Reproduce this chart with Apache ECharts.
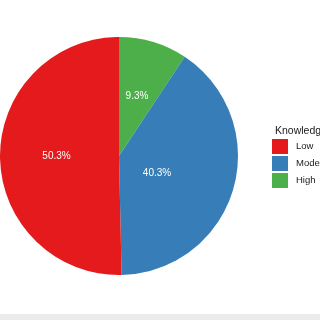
<!DOCTYPE html>
<html>
<head>
<meta charset="utf-8">
<script src="https://cdn.jsdelivr.net/npm/echarts@6/dist/echarts.min.js"></script>
<style>
  html, body { margin: 0; padding: 0; background: #ebebeb; }
  #main { width: 320px; height: 314px; background: #fff; }
</style>
</head>
<body>
<div id="main"></div>
<script>
// slices, clockwise from 12 o'clock
var levels = ['High', 'Moderate', 'Low'];
var shares = [9.3, 40.3, 50.3];
var legendOrder = ['Low', 'Moderate', 'High'];
var colors = { Low: '#E41A1C', Moderate: '#377EB8', High: '#4DAF4A' };

var pieData = [];
for (var i = 0; i < levels.length; i++) {
  var item = { name: levels[i], value: shares[i], itemStyle: { color: colors[levels[i]] } };
  if (levels[i] == 'Moderate') {
    item.label = { offset: [-22, 0] }; // label sits a bit left in the original
  }
  pieData.push(item);
}

var option = {
  backgroundColor: '#fff',
  animation: false,
  title: {
    text: 'Knowledge',
    left: 270,
    top: 121,
    textStyle: { fontSize: 10.5, fontWeight: 'normal', color: '#1a1a1a', fontFamily: 'Liberation Sans' }
  },
  legend: {
    orient: 'vertical',
    left: 267,
    top: 134,
    data: legendOrder,
    itemWidth: 16,
    itemHeight: 15,
    itemGap: 2,
    icon: 'rect',
    textStyle: { fontSize: 9.5, color: '#222', fontFamily: 'Liberation Sans', padding: [0, 0, 0, 3] }
  },
  series: [{
    type: 'pie',
    center: [119, 156],
    radius: [0, 119],
    startAngle: 90,
    clockwise: true,
    label: {
      position: 'inside',
      color: '#fff',
      fontSize: 10,
      fontFamily: 'Liberation Sans',
      formatter: function (p) { return p.value + '%'; }
    },
    labelLine: { show: false },
    itemStyle: { borderWidth: 0 },
    emphasis: { disabled: true },
    data: pieData
  }]
};

var myChart = echarts.init(document.getElementById('main'));
myChart.setOption(option);
</script>
</body>
</html>
